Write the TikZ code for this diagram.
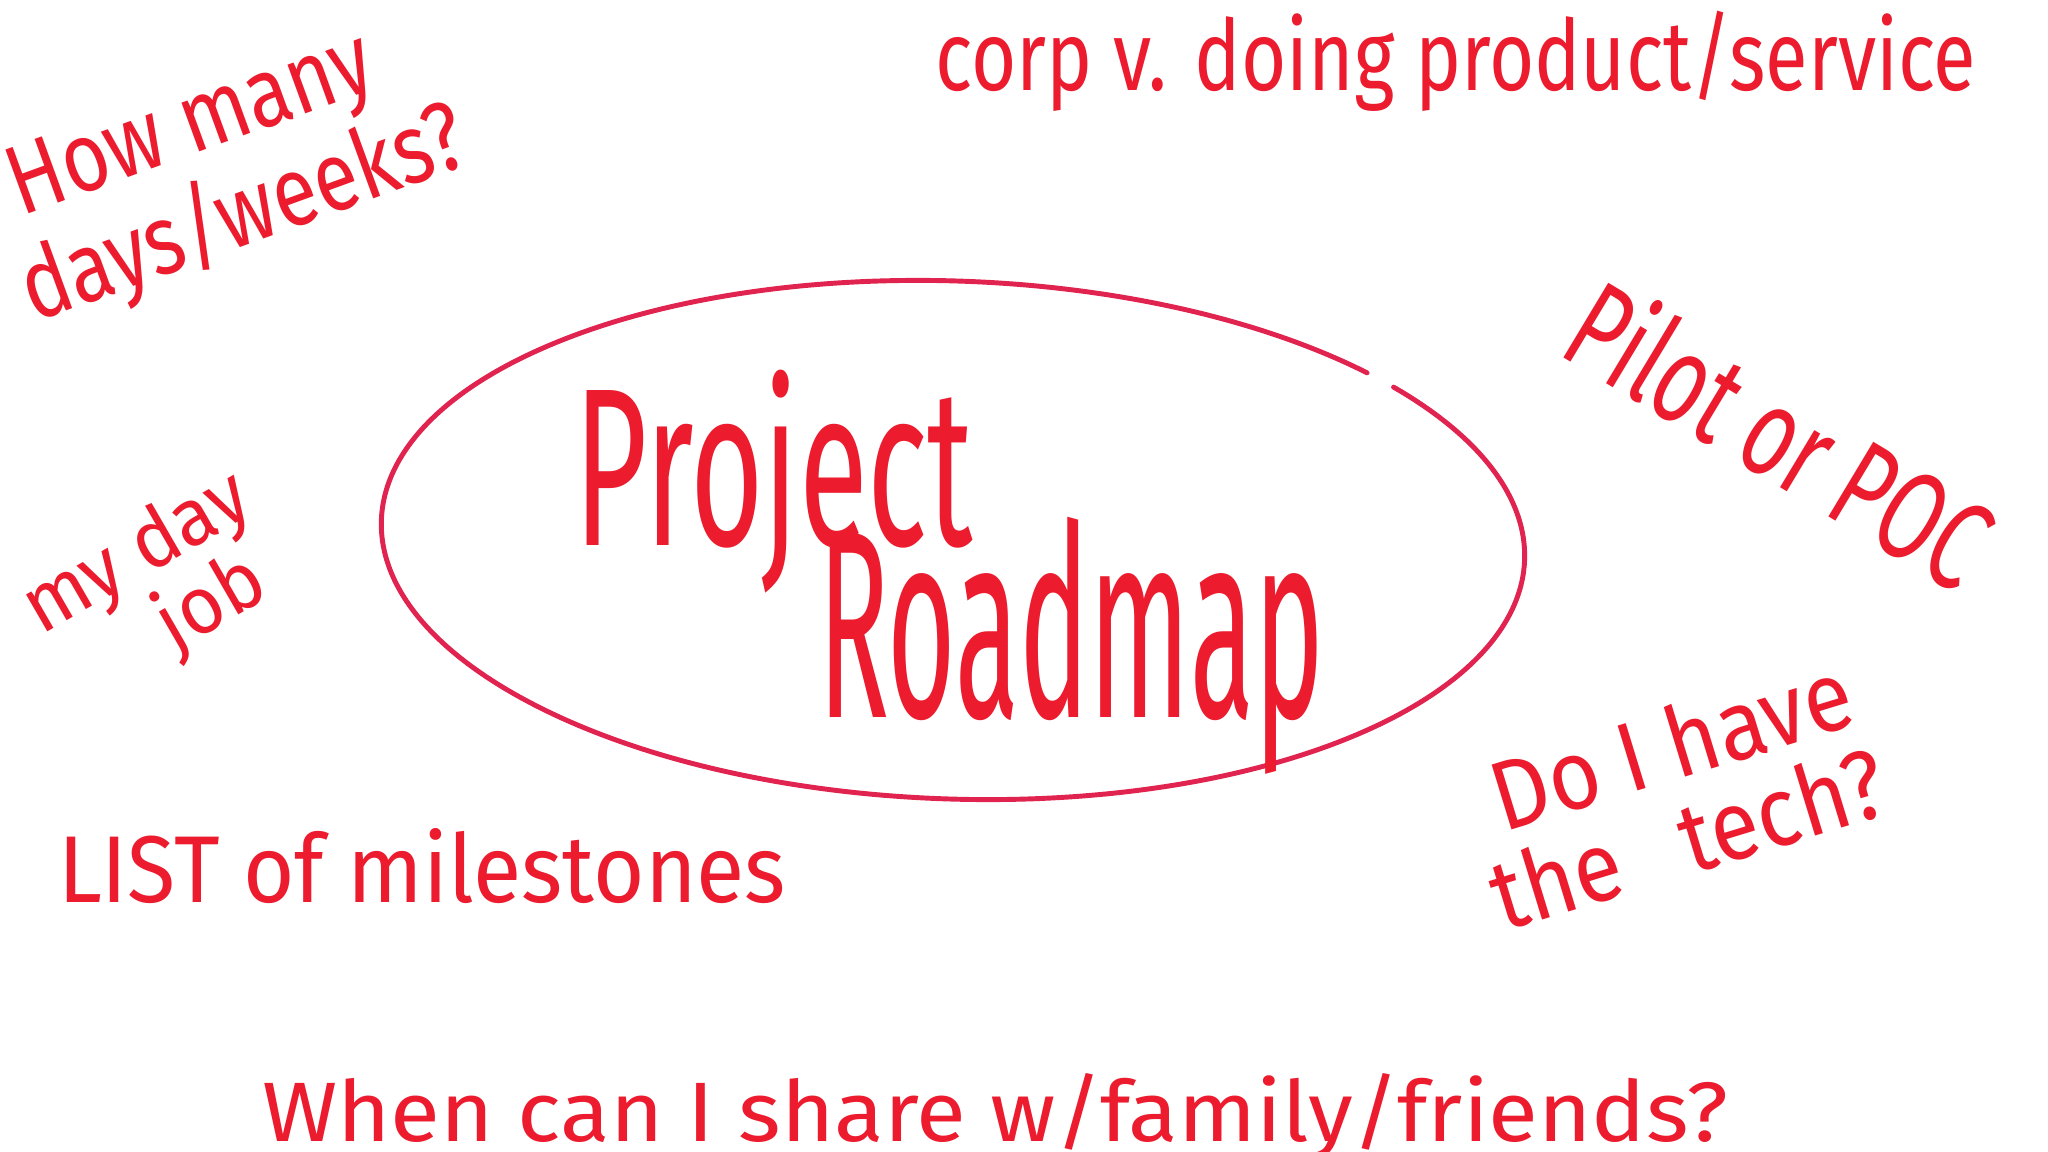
\documentclass[tikz,border=0pt]{standalone}
\usepackage{fontspec}
\newfontfamily\handfont{Fira Sans}
\usetikzlibrary{positioning}
\definecolor{inkred}{HTML}{EC1B2E}
\definecolor{loopred}{HTML}{E0234F}
\tikzstyle{note}=[text=inkred, inner sep=0pt, align=left]
\tikzstyle{loop}=[draw=loopred, line width=1.4pt, line cap=round]
\newcommand{\hand}[2]{\handfont\fontsize{#1}{#2}\selectfont}

\begin{document}
\begin{tikzpicture}
	\useasboundingbox[fill=white] (0,0) rectangle (20.48,-11.52);

	% the loop round the title, open at the top right
	\begin{scope}[shift={(9.53,-5.40)}, rotate=-2]
		\draw[loop] (44.5:5.72 and 2.59) arc[start angle=44.5, end angle=400.5, x radius=5.72, y radius=2.59];
	\end{scope}

	\node[note, font=\hand{64}{64}, xscale=0.56](project) at (7.74,-4.82) {Project};
	\node[note, font=\hand{76}{76}, below of=project, node distance=1.64cm, xshift=2.97cm, xscale=0.44](roadmap) {Roadmap};

	\node[note, font=\hand{28}{27}, rotate=20, xscale=0.82](how) at (2.28,-1.72) {\hspace*{0.3cm}How many\\days/weeks?};
	\node[note, font=\hand{28}{30}, xscale=0.79](corp) at (14.56,-0.61) {corp v. doing product/service};
	\node[note, font=\hand{36}{36}, rotate=-31, xscale=0.68](pilot) at (17.82,-4.32) {Pilot or POC};
	\node[note, font=\hand{23}{23}, rotate=30, xscale=0.95, align=right](myday) at (1.58,-5.90) {my day\\job\hspace*{0.3cm}};
	\node[note, font=\hand{28}{27}, rotate=17, xscale=0.90](tech) at (16.74,-7.92) {\hspace*{0.32cm}Do I have\\the\hspace*{0.45cm} tech?};
	\node[note, font=\hand{27}{28}, xscale=0.93](milestones) at (4.22,-8.66) {LIST of milestones};
	\node[note, font=\hand{24}{26}, xscale=1.08](share) at (9.95,-11.16) {When can I share w/family/friends?};
	%\draw[red] (0,0) grid (20,-11);
\end{tikzpicture}
\end{document}
